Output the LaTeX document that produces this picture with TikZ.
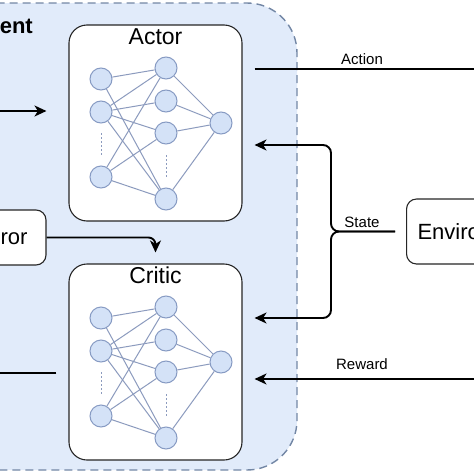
\documentclass[tikz,border=0pt]{standalone}
\usepackage{fontspec}
\setmainfont{Liberation Sans}
\usetikzlibrary{arrows.meta}
\definecolor{agentfill}{RGB}{225,235,250}
\definecolor{agentline}{RGB}{115,135,165}
\definecolor{neuronfill}{RGB}{212,226,247}
\definecolor{neuronline}{RGB}{135,155,195}
\definecolor{synapse}{RGB}{140,155,190}
\tikzset{
  netbox/.style={draw=black!85,line width=1.1pt,fill=white,rounded corners=18pt,minimum width=173pt,minimum height=196pt},
  plainbox/.style={draw=black!85,line width=1.1pt,fill=white,rounded corners=10pt,minimum height=55pt,font=\fontsize{22}{26}\selectfont},
  neuron/.style={circle,draw=neuronline,fill=neuronfill,line width=1pt,minimum size=22pt,inner sep=0pt},
  link/.style={draw=synapse,line width=1pt},
  dotrow/.style={draw=synapse,line width=0.9pt,dash pattern=on 2pt off 2pt},
  title/.style={font=\fontsize{23}{27}\selectfont,inner sep=0pt},
  lbl/.style={font=\fontsize{15}{18}\selectfont,inner sep=0pt},
  flow/.style={line width=1.9pt,black},
  arr/.style={flow,-{Stealth[length=12pt,width=11pt,inset=3.5pt]}}
}
\newcommand{\neuralnet}[2]{%
\node[neuron] (#1i1) at (101,79+#2) {};
\node[neuron] (#1i2) at (101,112+#2) {};
\node[neuron] (#1i3) at (101,177+#2) {};
\node[neuron] (#1h1) at (166,68+#2) {};
\node[neuron] (#1h2) at (166,101+#2) {};
\node[neuron] (#1h3) at (166,133+#2) {};
\node[neuron] (#1h4) at (166,199+#2) {};
\node[neuron] (#1o) at (221,123+#2) {};
\foreach \a/\b in {i1/h1,i1/h4,i2/h1,i2/h2,i2/h3,i2/h4,i3/h1,i3/h3,i3/h4,h1/o,h2/o,h3/o,h4/o}
  \draw[link] (#1\a) -- (#1\b);
\draw[dotrow] (101,133+#2) -- (101,155+#2);
\draw[dotrow] (166,155+#2) -- (166,178+#2);
}
\begin{document}
\begin{tikzpicture}[x=1pt,y=-1pt]
\useasboundingbox (0,0) rectangle (474,474);
\clip (0,0) rectangle (474,474);
\draw[agentline,fill=agentfill,line width=1.4pt,dash pattern=on 8pt off 5pt,rounded corners=50pt] (-60,3) rectangle (297,470);
\node[font=\bfseries\fontsize{22}{26}\selectfont,anchor=base east,inner sep=0pt] (agent) at (33,33) {Agent};
\node[netbox] (actor) at (155.5,123) {};
\node[title,anchor=base] (actortitle) at (155.5,44) {Actor};
\neuralnet{a}{0}
\node[netbox] (critic) at (155.5,362) {};
\node[title,anchor=base] (critictitle) at (155.5,283) {Critic};
\neuralnet{c}{239}
\node[plainbox,minimum width=86pt] (error) at (3,237.5) {Error};
\node[plainbox,anchor=west,inner xsep=11pt,minimum height=65pt] (env) at (406,231.5) {Environment};
\node[lbl,anchor=base] (actionlbl) at (362,64) {Action};
\node[lbl,anchor=base] (statelbl) at (362,227) {State};
\node[lbl,anchor=base] (rewardlbl) at (362,369) {Reward};
\coordinate (agin) at (-5,111);
\coordinate (agout) at (-5,373);
\coordinate (actout) at (480,69);
\coordinate (rwin) at (480,379);
\coordinate (stup) at (331,145);
\coordinate (stdn) at (331,318);
\draw[arr,shorten >=22pt] (agin) -- (actor.west |- agin);
\draw[flow,shorten <=12pt] (critic.west |- agout) -- (agout);
\draw[arr,rounded corners=7pt,shorten >=11pt] (error.east) -| (critic.north);
\draw[flow,shorten <=12pt] (actor.east |- actout) -- (actout);
\draw[arr,shorten >=12pt] (rwin) -- (critic.east |- rwin);
\draw[arr,rounded corners=8pt,shorten <=11pt,shorten >=12pt] (env.west) -| (stup) -- (actor.east |- stup);
\draw[arr,rounded corners=8pt,shorten <=11pt,shorten >=12pt] (env.west) -| (stdn) -- (critic.east |- stdn);
\end{tikzpicture}
\end{document}
